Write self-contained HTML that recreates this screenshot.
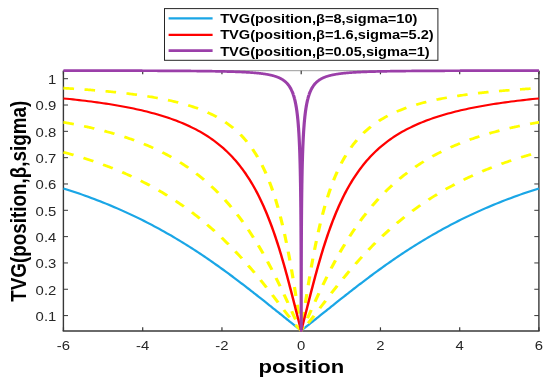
<!DOCTYPE html>
<html><head><meta charset="utf-8"><style>html,body{margin:0;padding:0;background:#fff;overflow:hidden}svg{display:block}</style></head><body>
<svg width="550" height="383" viewBox="0 0 550 383">
<rect width="550" height="383" fill="#fff"/>
<g stroke="#383838" fill="none">
<line x1="62.7" y1="330.9" x2="539.6" y2="330.9" stroke-width="1.5"/>
<line x1="63.4" y1="70.7" x2="538.9" y2="70.7" stroke-width="1" stroke="#9a9a9a"/>
<line x1="63.4" y1="70.7" x2="63.4" y2="330.9" stroke-width="1.4"/>
<line x1="538.9" y1="70.7" x2="538.9" y2="330.9" stroke-width="1.4"/>
<line x1="63.45" y1="330.9" x2="63.45" y2="327.3" stroke-width="1.2"/>
<line x1="63.45" y1="70.7" x2="63.45" y2="74.3" stroke-width="1.2"/>
<line x1="142.70" y1="330.9" x2="142.70" y2="327.3" stroke-width="1.2"/>
<line x1="142.70" y1="70.7" x2="142.70" y2="74.3" stroke-width="1.2"/>
<line x1="221.95" y1="330.9" x2="221.95" y2="327.3" stroke-width="1.2"/>
<line x1="221.95" y1="70.7" x2="221.95" y2="74.3" stroke-width="1.2"/>
<line x1="301.20" y1="330.9" x2="301.20" y2="327.3" stroke-width="1.2"/>
<line x1="301.20" y1="70.7" x2="301.20" y2="74.3" stroke-width="1.2"/>
<line x1="380.45" y1="330.9" x2="380.45" y2="327.3" stroke-width="1.2"/>
<line x1="380.45" y1="70.7" x2="380.45" y2="74.3" stroke-width="1.2"/>
<line x1="459.70" y1="330.9" x2="459.70" y2="327.3" stroke-width="1.2"/>
<line x1="459.70" y1="70.7" x2="459.70" y2="74.3" stroke-width="1.2"/>
<line x1="538.95" y1="330.9" x2="538.95" y2="327.3" stroke-width="1.2"/>
<line x1="538.95" y1="70.7" x2="538.95" y2="74.3" stroke-width="1.2"/>
<line x1="63.4" y1="315.58" x2="68.0" y2="315.58" stroke-width="1"/>
<line x1="538.9" y1="315.58" x2="534.3" y2="315.58" stroke-width="1"/>
<line x1="63.4" y1="289.26" x2="68.0" y2="289.26" stroke-width="1"/>
<line x1="538.9" y1="289.26" x2="534.3" y2="289.26" stroke-width="1"/>
<line x1="63.4" y1="262.94" x2="68.0" y2="262.94" stroke-width="1"/>
<line x1="538.9" y1="262.94" x2="534.3" y2="262.94" stroke-width="1"/>
<line x1="63.4" y1="236.62" x2="68.0" y2="236.62" stroke-width="1"/>
<line x1="538.9" y1="236.62" x2="534.3" y2="236.62" stroke-width="1"/>
<line x1="63.4" y1="210.30" x2="68.0" y2="210.30" stroke-width="1"/>
<line x1="538.9" y1="210.30" x2="534.3" y2="210.30" stroke-width="1"/>
<line x1="63.4" y1="183.98" x2="68.0" y2="183.98" stroke-width="1"/>
<line x1="538.9" y1="183.98" x2="534.3" y2="183.98" stroke-width="1"/>
<line x1="63.4" y1="157.66" x2="68.0" y2="157.66" stroke-width="1"/>
<line x1="538.9" y1="157.66" x2="534.3" y2="157.66" stroke-width="1"/>
<line x1="63.4" y1="131.34" x2="68.0" y2="131.34" stroke-width="1"/>
<line x1="538.9" y1="131.34" x2="534.3" y2="131.34" stroke-width="1"/>
<line x1="63.4" y1="105.02" x2="68.0" y2="105.02" stroke-width="1"/>
<line x1="538.9" y1="105.02" x2="534.3" y2="105.02" stroke-width="1"/>
<line x1="63.4" y1="78.70" x2="68.0" y2="78.70" stroke-width="1"/>
<line x1="538.9" y1="78.70" x2="534.3" y2="78.70" stroke-width="1"/>
</g>
<g transform="translate(301.2,0) scale(1.18,1)" fill="none" stroke-linejoin="round">
<polyline stroke="#1AA6E6" stroke-width="2.1" points="-201.48,188.42 -198.80,189.42 -196.13,190.44 -193.48,191.48 -190.85,192.52 -188.23,193.58 -185.64,194.65 -183.06,195.73 -180.50,196.82 -177.95,197.93 -175.43,199.05 -172.92,200.17 -170.44,201.32 -167.97,202.47 -165.51,203.63 -163.08,204.81 -160.66,205.99 -158.27,207.19 -155.89,208.40 -153.52,209.62 -151.18,210.85 -148.85,212.08 -146.55,213.33 -144.26,214.59 -141.99,215.86 -139.73,217.13 -137.50,218.42 -135.28,219.71 -133.08,221.01 -130.90,222.32 -128.73,223.63 -126.59,224.96 -124.46,226.28 -122.35,227.62 -120.26,228.96 -118.19,230.31 -116.13,231.66 -114.09,233.02 -112.07,234.38 -110.07,235.74 -108.09,237.11 -106.12,238.49 -104.18,239.86 -102.25,241.24 -100.34,242.62 -98.44,244.00 -96.57,245.38 -94.71,246.76 -92.87,248.14 -91.05,249.52 -89.25,250.91 -87.46,252.29 -85.70,253.66 -83.95,255.04 -82.22,256.41 -80.50,257.78 -78.81,259.15 -77.13,260.51 -75.47,261.87 -73.83,263.23 -72.21,264.57 -70.61,265.92 -69.02,267.25 -67.45,268.58 -65.90,269.91 -64.37,271.22 -62.85,272.53 -61.36,273.83 -59.88,275.12 -58.42,276.40 -56.98,277.67 -55.55,278.93 -54.15,280.19 -52.76,281.43 -51.39,282.66 -50.03,283.88 -48.70,285.08 -47.38,286.28 -46.09,287.46 -44.81,288.63 -43.54,289.79 -42.30,290.93 -41.07,292.07 -39.87,293.18 -38.68,294.29 -37.50,295.37 -36.35,296.45 -35.21,297.51 -34.10,298.55 -33.00,299.58 -31.91,300.60 -30.85,301.59 -29.81,302.58 -28.78,303.54 -27.77,304.50 -26.78,305.43 -25.80,306.35 -24.85,307.25 -23.91,308.14 -22.99,309.01 -22.09,309.86 -21.21,310.69 -20.34,311.51 -19.49,312.31 -18.66,313.10 -17.85,313.86 -17.06,314.61 -16.28,315.35 -15.53,316.06 -14.79,316.76 -14.07,317.44 -13.36,318.10 -12.68,318.75 -12.01,319.38 -11.36,319.99 -10.73,320.58 -10.12,321.16 -9.52,321.72 -8.94,322.26 -8.39,322.78 -7.85,323.29 -7.32,323.78 -6.82,324.25 -6.33,324.71 -5.86,325.14 -5.41,325.57 -4.98,325.97 -4.56,326.35 -4.17,326.72 -3.79,327.08 -3.43,327.41 -3.09,327.73 -2.76,328.03 -2.45,328.31 -2.17,328.58 -1.90,328.83 -1.64,329.07 -1.41,329.28 -1.19,329.48 -0.99,329.67 -0.81,329.83 -0.65,329.98 -0.51,330.12 -0.38,330.23 -0.27,330.33 -0.18,330.41 -0.11,330.48 -0.06,330.53 -0.02,330.56 -0.00,330.58 0.00,330.58 0.00,330.58 0.02,330.56 0.06,330.53 0.11,330.48 0.18,330.41 0.27,330.33 0.38,330.23 0.51,330.12 0.65,329.98 0.81,329.83 0.99,329.67 1.19,329.48 1.41,329.28 1.64,329.07 1.90,328.83 2.17,328.58 2.45,328.31 2.76,328.03 3.09,327.73 3.43,327.41 3.79,327.08 4.17,326.72 4.56,326.35 4.98,325.97 5.41,325.57 5.86,325.14 6.33,324.71 6.82,324.25 7.32,323.78 7.85,323.29 8.39,322.78 8.94,322.26 9.52,321.72 10.12,321.16 10.73,320.58 11.36,319.99 12.01,319.38 12.68,318.75 13.36,318.10 14.07,317.44 14.79,316.76 15.53,316.06 16.28,315.35 17.06,314.61 17.85,313.86 18.66,313.10 19.49,312.31 20.34,311.51 21.21,310.69 22.09,309.86 22.99,309.01 23.91,308.14 24.85,307.25 25.80,306.35 26.78,305.43 27.77,304.50 28.78,303.54 29.81,302.58 30.85,301.59 31.91,300.60 33.00,299.58 34.10,298.55 35.21,297.51 36.35,296.45 37.50,295.37 38.68,294.29 39.87,293.18 41.07,292.07 42.30,290.93 43.54,289.79 44.81,288.63 46.09,287.46 47.38,286.28 48.70,285.08 50.03,283.88 51.39,282.66 52.76,281.43 54.15,280.19 55.55,278.93 56.98,277.67 58.42,276.40 59.88,275.12 61.36,273.83 62.85,272.53 64.37,271.22 65.90,269.91 67.45,268.58 69.02,267.25 70.61,265.92 72.21,264.57 73.83,263.23 75.47,261.87 77.13,260.51 78.81,259.15 80.50,257.78 82.22,256.41 83.95,255.04 85.70,253.66 87.46,252.29 89.25,250.91 91.05,249.52 92.87,248.14 94.71,246.76 96.57,245.38 98.44,244.00 100.34,242.62 102.25,241.24 104.18,239.86 106.12,238.49 108.09,237.11 110.07,235.74 112.07,234.38 114.09,233.02 116.13,231.66 118.19,230.31 120.26,228.96 122.35,227.62 124.46,226.28 126.59,224.96 128.73,223.63 130.90,222.32 133.08,221.01 135.28,219.71 137.50,218.42 139.73,217.13 141.99,215.86 144.26,214.59 146.55,213.33 148.85,212.08 151.18,210.85 153.52,209.62 155.89,208.40 158.27,207.19 160.66,205.99 163.08,204.81 165.51,203.63 167.97,202.47 170.44,201.32 172.92,200.17 175.43,199.05 177.95,197.93 180.50,196.82 183.06,195.73 185.64,194.65 188.23,193.58 190.85,192.52 193.48,191.48 196.13,190.44 198.80,189.42 201.48,188.42"/>
<polyline stroke="#FFFF00" stroke-width="2.7" stroke-dasharray="9 8.9" points="-201.48,88.13 -201.48,88.13 -201.46,88.13 -201.44,88.14 -201.40,88.14 -201.36,88.14 -201.30,88.15 -201.23,88.15 -201.16,88.16 -201.07,88.16 -200.97,88.17 -200.87,88.18 -200.75,88.18 -200.62,88.19 -200.49,88.20 -200.34,88.21 -200.18,88.22 -200.01,88.24 -199.83,88.25 -199.65,88.26 -199.45,88.28 -199.24,88.29 -199.02,88.31 -198.79,88.32 -198.55,88.34 -198.30,88.36 -198.04,88.38 -197.77,88.40 -197.49,88.42 -197.20,88.44 -196.90,88.46 -196.59,88.48 -196.27,88.51 -195.94,88.53 -195.60,88.56 -195.25,88.58 -194.89,88.61 -194.52,88.64 -194.14,88.67 -193.74,88.70 -193.34,88.73 -192.93,88.76 -192.51,88.79 -192.08,88.83 -191.63,88.86 -191.18,88.90 -190.72,88.93 -190.24,88.97 -189.76,89.01 -189.27,89.05 -188.76,89.09 -188.25,89.13 -187.73,89.17 -187.19,89.22 -186.65,89.26 -186.09,89.31 -185.53,89.36 -184.95,89.41 -184.37,89.46 -183.77,89.51 -183.17,89.56 -182.55,89.61 -181.93,89.67 -181.29,89.72 -180.64,89.78 -179.99,89.84 -179.32,89.90 -178.64,89.96 -177.96,90.03 -177.26,90.09 -176.55,90.16 -175.84,90.23 -175.11,90.30 -174.37,90.37 -173.62,90.44 -172.86,90.51 -172.10,90.59 -171.32,90.67 -170.53,90.75 -169.73,90.83 -168.92,90.92 -168.10,91.00 -167.27,91.09 -166.43,91.18 -165.58,91.27 -164.72,91.37 -163.85,91.46 -162.97,91.56 -162.08,91.66 -161.18,91.77 -160.27,91.87 -159.35,91.98 -158.42,92.09 -157.48,92.21 -156.53,92.32 -155.57,92.44 -154.59,92.57 -153.61,92.69 -152.62,92.82 -151.62,92.95 -150.60,93.09 -149.58,93.23 -148.55,93.37 -147.51,93.52 -146.45,93.67 -145.39,93.82 -144.32,93.98 -143.23,94.14 -142.14,94.31 -141.03,94.48 -139.92,94.66 -138.80,94.84 -137.66,95.02 -136.52,95.21 -135.36,95.41 -134.20,95.61 -133.02,95.82 -131.84,96.03 -130.64,96.25 -129.43,96.48 -128.22,96.71 -126.99,96.95 -125.76,97.19 -124.51,97.45 -123.25,97.71 -121.99,97.98 -120.71,98.25 -119.42,98.54 -118.12,98.84 -116.82,99.14 -115.50,99.46 -114.17,99.78 -112.83,100.12 -111.48,100.46 -110.13,100.82 -108.76,101.19 -107.38,101.58 -105.99,101.98 -104.59,102.39 -103.18,102.82 -101.76,103.26 -100.33,103.72 -98.89,104.20 -97.44,104.69 -95.98,105.21 -94.51,105.74 -93.03,106.30 -91.54,106.88 -90.04,107.48 -88.53,108.11 -87.01,108.76 -85.48,109.44 -83.93,110.16 -82.38,110.90 -80.82,111.68 -79.25,112.50 -77.67,113.35 -76.07,114.24 -74.47,115.18 -72.86,116.17 -71.23,117.20 -69.60,118.29 -67.96,119.44 -66.30,120.64 -64.64,121.92 -62.97,123.26 -61.28,124.68 -59.59,126.19 -57.88,127.78 -56.17,129.47 -54.44,131.27 -52.71,133.18 -50.96,135.22 -49.21,137.39 -47.44,139.71 -45.67,142.19 -43.88,144.85 -42.09,147.71 -40.28,150.78 -38.46,154.09 -36.64,157.66 -34.80,161.52 -32.95,165.70 -31.10,170.23 -29.23,175.15 -27.35,180.51 -25.46,186.36 -23.57,192.75 -21.66,199.73 -19.74,207.37 -17.81,215.74 -15.87,224.91 -13.93,234.94 -11.97,245.90 -10.00,257.84 -8.02,270.77 -6.03,284.66 -4.03,299.41 -2.02,314.83 -0.00,330.58"/>
<polyline stroke="#FFFF00" stroke-width="2.7" stroke-dasharray="9 8.9" stroke-dashoffset="10.8" points="201.48,88.13 201.48,88.13 201.46,88.13 201.44,88.14 201.40,88.14 201.36,88.14 201.30,88.15 201.23,88.15 201.16,88.16 201.07,88.16 200.97,88.17 200.87,88.18 200.75,88.18 200.62,88.19 200.49,88.20 200.34,88.21 200.18,88.22 200.01,88.24 199.83,88.25 199.65,88.26 199.45,88.28 199.24,88.29 199.02,88.31 198.79,88.32 198.55,88.34 198.30,88.36 198.04,88.38 197.77,88.40 197.49,88.42 197.20,88.44 196.90,88.46 196.59,88.48 196.27,88.51 195.94,88.53 195.60,88.56 195.25,88.58 194.89,88.61 194.52,88.64 194.14,88.67 193.74,88.70 193.34,88.73 192.93,88.76 192.51,88.79 192.08,88.83 191.63,88.86 191.18,88.90 190.72,88.93 190.24,88.97 189.76,89.01 189.27,89.05 188.76,89.09 188.25,89.13 187.73,89.17 187.19,89.22 186.65,89.26 186.09,89.31 185.53,89.36 184.95,89.41 184.37,89.46 183.77,89.51 183.17,89.56 182.55,89.61 181.93,89.67 181.29,89.72 180.64,89.78 179.99,89.84 179.32,89.90 178.64,89.96 177.96,90.03 177.26,90.09 176.55,90.16 175.84,90.23 175.11,90.30 174.37,90.37 173.62,90.44 172.86,90.51 172.10,90.59 171.32,90.67 170.53,90.75 169.73,90.83 168.92,90.92 168.10,91.00 167.27,91.09 166.43,91.18 165.58,91.27 164.72,91.37 163.85,91.46 162.97,91.56 162.08,91.66 161.18,91.77 160.27,91.87 159.35,91.98 158.42,92.09 157.48,92.21 156.53,92.32 155.57,92.44 154.59,92.57 153.61,92.69 152.62,92.82 151.62,92.95 150.60,93.09 149.58,93.23 148.55,93.37 147.51,93.52 146.45,93.67 145.39,93.82 144.32,93.98 143.23,94.14 142.14,94.31 141.03,94.48 139.92,94.66 138.80,94.84 137.66,95.02 136.52,95.21 135.36,95.41 134.20,95.61 133.02,95.82 131.84,96.03 130.64,96.25 129.43,96.48 128.22,96.71 126.99,96.95 125.76,97.19 124.51,97.45 123.25,97.71 121.99,97.98 120.71,98.25 119.42,98.54 118.12,98.84 116.82,99.14 115.50,99.46 114.17,99.78 112.83,100.12 111.48,100.46 110.13,100.82 108.76,101.19 107.38,101.58 105.99,101.98 104.59,102.39 103.18,102.82 101.76,103.26 100.33,103.72 98.89,104.20 97.44,104.69 95.98,105.21 94.51,105.74 93.03,106.30 91.54,106.88 90.04,107.48 88.53,108.11 87.01,108.76 85.48,109.44 83.93,110.16 82.38,110.90 80.82,111.68 79.25,112.50 77.67,113.35 76.07,114.24 74.47,115.18 72.86,116.17 71.23,117.20 69.60,118.29 67.96,119.44 66.30,120.64 64.64,121.92 62.97,123.26 61.28,124.68 59.59,126.19 57.88,127.78 56.17,129.47 54.44,131.27 52.71,133.18 50.96,135.22 49.21,137.39 47.44,139.71 45.67,142.19 43.88,144.85 42.09,147.71 40.28,150.78 38.46,154.09 36.64,157.66 34.80,161.52 32.95,165.70 31.10,170.23 29.23,175.15 27.35,180.51 25.46,186.36 23.57,192.75 21.66,199.73 19.74,207.37 17.81,215.74 15.87,224.91 13.93,234.94 11.97,245.90 10.00,257.84 8.02,270.77 6.03,284.66 4.03,299.41 2.02,314.83 0.00,330.58"/>
<polyline stroke="#FFFF00" stroke-width="2.7" stroke-dasharray="9 8.9" points="-201.48,122.30 -201.48,122.30 -201.46,122.30 -201.44,122.30 -201.40,122.31 -201.36,122.32 -201.30,122.33 -201.23,122.35 -201.16,122.36 -201.07,122.38 -200.97,122.40 -200.87,122.42 -200.75,122.44 -200.62,122.47 -200.49,122.50 -200.34,122.53 -200.18,122.56 -200.01,122.60 -199.83,122.63 -199.65,122.67 -199.45,122.71 -199.24,122.76 -199.02,122.80 -198.79,122.85 -198.55,122.90 -198.30,122.95 -198.04,123.01 -197.77,123.06 -197.49,123.12 -197.20,123.18 -196.90,123.25 -196.59,123.31 -196.27,123.38 -195.94,123.45 -195.60,123.53 -195.25,123.60 -194.89,123.68 -194.52,123.76 -194.14,123.85 -193.74,123.94 -193.34,124.02 -192.93,124.12 -192.51,124.21 -192.08,124.31 -191.63,124.41 -191.18,124.51 -190.72,124.62 -190.24,124.73 -189.76,124.84 -189.27,124.96 -188.76,125.07 -188.25,125.20 -187.73,125.32 -187.19,125.45 -186.65,125.58 -186.09,125.71 -185.53,125.85 -184.95,125.99 -184.37,126.14 -183.77,126.29 -183.17,126.44 -182.55,126.59 -181.93,126.75 -181.29,126.92 -180.64,127.08 -179.99,127.26 -179.32,127.43 -178.64,127.61 -177.96,127.80 -177.26,127.98 -176.55,128.18 -175.84,128.37 -175.11,128.58 -174.37,128.78 -173.62,128.99 -172.86,129.21 -172.10,129.43 -171.32,129.66 -170.53,129.89 -169.73,130.13 -168.92,130.37 -168.10,130.62 -167.27,130.87 -166.43,131.13 -165.58,131.39 -164.72,131.67 -163.85,131.94 -162.97,132.23 -162.08,132.52 -161.18,132.82 -160.27,133.12 -159.35,133.43 -158.42,133.75 -157.48,134.08 -156.53,134.41 -155.57,134.75 -154.59,135.10 -153.61,135.46 -152.62,135.83 -151.62,136.20 -150.60,136.58 -149.58,136.98 -148.55,137.38 -147.51,137.79 -146.45,138.21 -145.39,138.64 -144.32,139.08 -143.23,139.54 -142.14,140.00 -141.03,140.47 -139.92,140.96 -138.80,141.46 -137.66,141.97 -136.52,142.49 -135.36,143.02 -134.20,143.57 -133.02,144.14 -131.84,144.71 -130.64,145.30 -129.43,145.91 -128.22,146.53 -126.99,147.17 -125.76,147.82 -124.51,148.49 -123.25,149.18 -121.99,149.88 -120.71,150.60 -119.42,151.35 -118.12,152.11 -116.82,152.89 -115.50,153.69 -114.17,154.52 -112.83,155.36 -111.48,156.23 -110.13,157.12 -108.76,158.04 -107.38,158.98 -105.99,159.95 -104.59,160.94 -103.18,161.97 -101.76,163.02 -100.33,164.10 -98.89,165.21 -97.44,166.35 -95.98,167.52 -94.51,168.73 -93.03,169.97 -91.54,171.25 -90.04,172.57 -88.53,173.93 -87.01,175.32 -85.48,176.76 -83.93,178.23 -82.38,179.76 -80.82,181.33 -79.25,182.94 -77.67,184.61 -76.07,186.32 -74.47,188.09 -72.86,189.91 -71.23,191.79 -69.60,193.73 -67.96,195.73 -66.30,197.79 -64.64,199.91 -62.97,202.11 -61.28,204.37 -59.59,206.70 -57.88,209.11 -56.17,211.59 -54.44,214.16 -52.71,216.80 -50.96,219.54 -49.21,222.35 -47.44,225.26 -45.67,228.27 -43.88,231.37 -42.09,234.57 -40.28,237.87 -38.46,241.28 -36.64,244.79 -34.80,248.42 -32.95,252.16 -31.10,256.01 -29.23,259.99 -27.35,264.08 -25.46,268.30 -23.57,272.63 -21.66,277.09 -19.74,281.66 -17.81,286.36 -15.87,291.16 -13.93,296.07 -11.97,301.07 -10.00,306.15 -8.02,311.28 -6.03,316.42 -4.03,321.50 -2.02,326.39 -0.00,330.58"/>
<polyline stroke="#FFFF00" stroke-width="2.7" stroke-dasharray="9 8.9" stroke-dashoffset="1.3" points="201.48,122.30 201.48,122.30 201.46,122.30 201.44,122.30 201.40,122.31 201.36,122.32 201.30,122.33 201.23,122.35 201.16,122.36 201.07,122.38 200.97,122.40 200.87,122.42 200.75,122.44 200.62,122.47 200.49,122.50 200.34,122.53 200.18,122.56 200.01,122.60 199.83,122.63 199.65,122.67 199.45,122.71 199.24,122.76 199.02,122.80 198.79,122.85 198.55,122.90 198.30,122.95 198.04,123.01 197.77,123.06 197.49,123.12 197.20,123.18 196.90,123.25 196.59,123.31 196.27,123.38 195.94,123.45 195.60,123.53 195.25,123.60 194.89,123.68 194.52,123.76 194.14,123.85 193.74,123.94 193.34,124.02 192.93,124.12 192.51,124.21 192.08,124.31 191.63,124.41 191.18,124.51 190.72,124.62 190.24,124.73 189.76,124.84 189.27,124.96 188.76,125.07 188.25,125.20 187.73,125.32 187.19,125.45 186.65,125.58 186.09,125.71 185.53,125.85 184.95,125.99 184.37,126.14 183.77,126.29 183.17,126.44 182.55,126.59 181.93,126.75 181.29,126.92 180.64,127.08 179.99,127.26 179.32,127.43 178.64,127.61 177.96,127.80 177.26,127.98 176.55,128.18 175.84,128.37 175.11,128.58 174.37,128.78 173.62,128.99 172.86,129.21 172.10,129.43 171.32,129.66 170.53,129.89 169.73,130.13 168.92,130.37 168.10,130.62 167.27,130.87 166.43,131.13 165.58,131.39 164.72,131.67 163.85,131.94 162.97,132.23 162.08,132.52 161.18,132.82 160.27,133.12 159.35,133.43 158.42,133.75 157.48,134.08 156.53,134.41 155.57,134.75 154.59,135.10 153.61,135.46 152.62,135.83 151.62,136.20 150.60,136.58 149.58,136.98 148.55,137.38 147.51,137.79 146.45,138.21 145.39,138.64 144.32,139.08 143.23,139.54 142.14,140.00 141.03,140.47 139.92,140.96 138.80,141.46 137.66,141.97 136.52,142.49 135.36,143.02 134.20,143.57 133.02,144.14 131.84,144.71 130.64,145.30 129.43,145.91 128.22,146.53 126.99,147.17 125.76,147.82 124.51,148.49 123.25,149.18 121.99,149.88 120.71,150.60 119.42,151.35 118.12,152.11 116.82,152.89 115.50,153.69 114.17,154.52 112.83,155.36 111.48,156.23 110.13,157.12 108.76,158.04 107.38,158.98 105.99,159.95 104.59,160.94 103.18,161.97 101.76,163.02 100.33,164.10 98.89,165.21 97.44,166.35 95.98,167.52 94.51,168.73 93.03,169.97 91.54,171.25 90.04,172.57 88.53,173.93 87.01,175.32 85.48,176.76 83.93,178.23 82.38,179.76 80.82,181.33 79.25,182.94 77.67,184.61 76.07,186.32 74.47,188.09 72.86,189.91 71.23,191.79 69.60,193.73 67.96,195.73 66.30,197.79 64.64,199.91 62.97,202.11 61.28,204.37 59.59,206.70 57.88,209.11 56.17,211.59 54.44,214.16 52.71,216.80 50.96,219.54 49.21,222.35 47.44,225.26 45.67,228.27 43.88,231.37 42.09,234.57 40.28,237.87 38.46,241.28 36.64,244.79 34.80,248.42 32.95,252.16 31.10,256.01 29.23,259.99 27.35,264.08 25.46,268.30 23.57,272.63 21.66,277.09 19.74,281.66 17.81,286.36 15.87,291.16 13.93,296.07 11.97,301.07 10.00,306.15 8.02,311.28 6.03,316.42 4.03,321.50 2.02,326.39 0.00,330.58"/>
<polyline stroke="#FFFF00" stroke-width="2.7" stroke-dasharray="9 8.9" points="-201.48,152.21 -201.48,152.21 -201.46,152.22 -201.44,152.23 -201.40,152.24 -201.36,152.25 -201.30,152.27 -201.23,152.29 -201.16,152.32 -201.07,152.34 -200.97,152.37 -200.87,152.41 -200.75,152.44 -200.62,152.48 -200.49,152.53 -200.34,152.58 -200.18,152.63 -200.01,152.68 -199.83,152.74 -199.65,152.80 -199.45,152.86 -199.24,152.93 -199.02,153.00 -198.79,153.07 -198.55,153.15 -198.30,153.23 -198.04,153.31 -197.77,153.40 -197.49,153.49 -197.20,153.59 -196.90,153.69 -196.59,153.79 -196.27,153.89 -195.94,154.00 -195.60,154.12 -195.25,154.23 -194.89,154.35 -194.52,154.48 -194.14,154.61 -193.74,154.74 -193.34,154.88 -192.93,155.02 -192.51,155.16 -192.08,155.31 -191.63,155.46 -191.18,155.62 -190.72,155.78 -190.24,155.95 -189.76,156.11 -189.27,156.29 -188.76,156.47 -188.25,156.65 -187.73,156.84 -187.19,157.03 -186.65,157.23 -186.09,157.43 -185.53,157.63 -184.95,157.84 -184.37,158.06 -183.77,158.28 -183.17,158.51 -182.55,158.74 -181.93,158.97 -181.29,159.21 -180.64,159.46 -179.99,159.71 -179.32,159.97 -178.64,160.23 -177.96,160.50 -177.26,160.78 -176.55,161.06 -175.84,161.34 -175.11,161.64 -174.37,161.94 -173.62,162.24 -172.86,162.55 -172.10,162.87 -171.32,163.19 -170.53,163.53 -169.73,163.86 -168.92,164.21 -168.10,164.56 -167.27,164.92 -166.43,165.29 -165.58,165.66 -164.72,166.04 -163.85,166.43 -162.97,166.83 -162.08,167.23 -161.18,167.65 -160.27,168.07 -159.35,168.50 -158.42,168.94 -157.48,169.38 -156.53,169.84 -155.57,170.31 -154.59,170.78 -153.61,171.27 -152.62,171.76 -151.62,172.26 -150.60,172.78 -149.58,173.30 -148.55,173.84 -147.51,174.38 -146.45,174.94 -145.39,175.51 -144.32,176.08 -143.23,176.67 -142.14,177.28 -141.03,177.89 -139.92,178.52 -138.80,179.16 -137.66,179.81 -136.52,180.47 -135.36,181.15 -134.20,181.85 -133.02,182.55 -131.84,183.27 -130.64,184.01 -129.43,184.76 -128.22,185.52 -126.99,186.30 -125.76,187.10 -124.51,187.91 -123.25,188.74 -121.99,189.59 -120.71,190.45 -119.42,191.33 -118.12,192.23 -116.82,193.15 -115.50,194.09 -114.17,195.05 -112.83,196.02 -111.48,197.02 -110.13,198.04 -108.76,199.07 -107.38,200.13 -105.99,201.22 -104.59,202.32 -103.18,203.45 -101.76,204.60 -100.33,205.77 -98.89,206.97 -97.44,208.20 -95.98,209.45 -94.51,210.73 -93.03,212.03 -91.54,213.36 -90.04,214.72 -88.53,216.11 -87.01,217.53 -85.48,218.97 -83.93,220.45 -82.38,221.96 -80.82,223.50 -79.25,225.08 -77.67,226.68 -76.07,228.33 -74.47,230.00 -72.86,231.71 -71.23,233.46 -69.60,235.24 -67.96,237.06 -66.30,238.92 -64.64,240.82 -62.97,242.76 -61.28,244.74 -59.59,246.75 -57.88,248.81 -56.17,250.92 -54.44,253.06 -52.71,255.25 -50.96,257.48 -49.21,259.75 -47.44,262.07 -45.67,264.44 -43.88,266.85 -42.09,269.30 -40.28,271.80 -38.46,274.35 -36.64,276.94 -34.80,279.58 -32.95,282.26 -31.10,284.98 -29.23,287.75 -27.35,290.55 -25.46,293.40 -23.57,296.28 -21.66,299.20 -19.74,302.15 -17.81,305.12 -15.87,308.11 -13.93,311.11 -11.97,314.12 -10.00,317.11 -8.02,320.08 -6.03,322.98 -4.03,325.80 -2.02,328.43 -0.00,330.58"/>
<polyline stroke="#FFFF00" stroke-width="2.7" stroke-dasharray="9 8.9" stroke-dashoffset="10.9" points="201.48,152.21 201.48,152.21 201.46,152.22 201.44,152.23 201.40,152.24 201.36,152.25 201.30,152.27 201.23,152.29 201.16,152.32 201.07,152.34 200.97,152.37 200.87,152.41 200.75,152.44 200.62,152.48 200.49,152.53 200.34,152.58 200.18,152.63 200.01,152.68 199.83,152.74 199.65,152.80 199.45,152.86 199.24,152.93 199.02,153.00 198.79,153.07 198.55,153.15 198.30,153.23 198.04,153.31 197.77,153.40 197.49,153.49 197.20,153.59 196.90,153.69 196.59,153.79 196.27,153.89 195.94,154.00 195.60,154.12 195.25,154.23 194.89,154.35 194.52,154.48 194.14,154.61 193.74,154.74 193.34,154.88 192.93,155.02 192.51,155.16 192.08,155.31 191.63,155.46 191.18,155.62 190.72,155.78 190.24,155.95 189.76,156.11 189.27,156.29 188.76,156.47 188.25,156.65 187.73,156.84 187.19,157.03 186.65,157.23 186.09,157.43 185.53,157.63 184.95,157.84 184.37,158.06 183.77,158.28 183.17,158.51 182.55,158.74 181.93,158.97 181.29,159.21 180.64,159.46 179.99,159.71 179.32,159.97 178.64,160.23 177.96,160.50 177.26,160.78 176.55,161.06 175.84,161.34 175.11,161.64 174.37,161.94 173.62,162.24 172.86,162.55 172.10,162.87 171.32,163.19 170.53,163.53 169.73,163.86 168.92,164.21 168.10,164.56 167.27,164.92 166.43,165.29 165.58,165.66 164.72,166.04 163.85,166.43 162.97,166.83 162.08,167.23 161.18,167.65 160.27,168.07 159.35,168.50 158.42,168.94 157.48,169.38 156.53,169.84 155.57,170.31 154.59,170.78 153.61,171.27 152.62,171.76 151.62,172.26 150.60,172.78 149.58,173.30 148.55,173.84 147.51,174.38 146.45,174.94 145.39,175.51 144.32,176.08 143.23,176.67 142.14,177.28 141.03,177.89 139.92,178.52 138.80,179.16 137.66,179.81 136.52,180.47 135.36,181.15 134.20,181.85 133.02,182.55 131.84,183.27 130.64,184.01 129.43,184.76 128.22,185.52 126.99,186.30 125.76,187.10 124.51,187.91 123.25,188.74 121.99,189.59 120.71,190.45 119.42,191.33 118.12,192.23 116.82,193.15 115.50,194.09 114.17,195.05 112.83,196.02 111.48,197.02 110.13,198.04 108.76,199.07 107.38,200.13 105.99,201.22 104.59,202.32 103.18,203.45 101.76,204.60 100.33,205.77 98.89,206.97 97.44,208.20 95.98,209.45 94.51,210.73 93.03,212.03 91.54,213.36 90.04,214.72 88.53,216.11 87.01,217.53 85.48,218.97 83.93,220.45 82.38,221.96 80.82,223.50 79.25,225.08 77.67,226.68 76.07,228.33 74.47,230.00 72.86,231.71 71.23,233.46 69.60,235.24 67.96,237.06 66.30,238.92 64.64,240.82 62.97,242.76 61.28,244.74 59.59,246.75 57.88,248.81 56.17,250.92 54.44,253.06 52.71,255.25 50.96,257.48 49.21,259.75 47.44,262.07 45.67,264.44 43.88,266.85 42.09,269.30 40.28,271.80 38.46,274.35 36.64,276.94 34.80,279.58 32.95,282.26 31.10,284.98 29.23,287.75 27.35,290.55 25.46,293.40 23.57,296.28 21.66,299.20 19.74,302.15 17.81,305.12 15.87,308.11 13.93,311.11 11.97,314.12 10.00,317.11 8.02,320.08 6.03,322.98 4.03,325.80 2.02,328.43 0.00,330.58"/>
<polyline stroke="#FF0000" stroke-width="2.1" points="-201.48,98.43 -198.80,98.75 -196.13,99.07 -193.48,99.41 -190.85,99.75 -188.23,100.10 -185.64,100.45 -183.06,100.82 -180.50,101.19 -177.95,101.58 -175.43,101.97 -172.92,102.37 -170.44,102.78 -167.97,103.20 -165.51,103.64 -163.08,104.08 -160.66,104.53 -158.27,105.00 -155.89,105.47 -153.52,105.96 -151.18,106.46 -148.85,106.98 -146.55,107.50 -144.26,108.04 -141.99,108.60 -139.73,109.16 -137.50,109.75 -135.28,110.34 -133.08,110.96 -130.90,111.59 -128.73,112.23 -126.59,112.89 -124.46,113.57 -122.35,114.27 -120.26,114.99 -118.19,115.72 -116.13,116.48 -114.09,117.25 -112.07,118.05 -110.07,118.86 -108.09,119.70 -106.12,120.56 -104.18,121.45 -102.25,122.36 -100.34,123.29 -98.44,124.25 -96.57,125.24 -94.71,126.25 -92.87,127.29 -91.05,128.35 -89.25,129.45 -87.46,130.58 -85.70,131.73 -83.95,132.92 -82.22,134.15 -80.50,135.40 -78.81,136.69 -77.13,138.01 -75.47,139.37 -73.83,140.77 -72.21,142.20 -70.61,143.68 -69.02,145.19 -67.45,146.74 -65.90,148.34 -64.37,149.97 -62.85,151.65 -61.36,153.37 -59.88,155.14 -58.42,156.95 -56.98,158.81 -55.55,160.72 -54.15,162.67 -52.76,164.67 -51.39,166.72 -50.03,168.81 -48.70,170.96 -47.38,173.16 -46.09,175.40 -44.81,177.70 -43.54,180.05 -42.30,182.44 -41.07,184.89 -39.87,187.38 -38.68,189.93 -37.50,192.52 -36.35,195.16 -35.21,197.84 -34.10,200.57 -33.00,203.34 -31.91,206.16 -30.85,209.02 -29.81,211.91 -28.78,214.84 -27.77,217.80 -26.78,220.80 -25.80,223.82 -24.85,226.87 -23.91,229.94 -22.99,233.02 -22.09,236.12 -21.21,239.24 -20.34,242.36 -19.49,245.48 -18.66,248.60 -17.85,251.71 -17.06,254.81 -16.28,257.90 -15.53,260.97 -14.79,264.01 -14.07,267.02 -13.36,270.00 -12.68,272.94 -12.01,275.84 -11.36,278.69 -10.73,281.48 -10.12,284.23 -9.52,286.91 -8.94,289.53 -8.39,292.08 -7.85,294.56 -7.32,296.97 -6.82,299.31 -6.33,301.56 -5.86,303.74 -5.41,305.84 -4.98,307.85 -4.56,309.78 -4.17,311.62 -3.79,313.38 -3.43,315.04 -3.09,316.63 -2.76,318.12 -2.45,319.53 -2.17,320.85 -1.90,322.08 -1.64,323.23 -1.41,324.29 -1.19,325.27 -0.99,326.16 -0.81,326.97 -0.65,327.70 -0.51,328.34 -0.38,328.90 -0.27,329.38 -0.18,329.78 -0.11,330.10 -0.06,330.33 -0.02,330.49 -0.00,330.57 0.00,330.58 0.00,330.57 0.02,330.49 0.06,330.33 0.11,330.10 0.18,329.78 0.27,329.38 0.38,328.90 0.51,328.34 0.65,327.70 0.81,326.97 0.99,326.16 1.19,325.27 1.41,324.29 1.64,323.23 1.90,322.08 2.17,320.85 2.45,319.53 2.76,318.12 3.09,316.63 3.43,315.04 3.79,313.38 4.17,311.62 4.56,309.78 4.98,307.85 5.41,305.84 5.86,303.74 6.33,301.56 6.82,299.31 7.32,296.97 7.85,294.56 8.39,292.08 8.94,289.53 9.52,286.91 10.12,284.23 10.73,281.48 11.36,278.69 12.01,275.84 12.68,272.94 13.36,270.00 14.07,267.02 14.79,264.01 15.53,260.97 16.28,257.90 17.06,254.81 17.85,251.71 18.66,248.60 19.49,245.48 20.34,242.36 21.21,239.24 22.09,236.12 22.99,233.02 23.91,229.94 24.85,226.87 25.80,223.82 26.78,220.80 27.77,217.80 28.78,214.84 29.81,211.91 30.85,209.02 31.91,206.16 33.00,203.34 34.10,200.57 35.21,197.84 36.35,195.16 37.50,192.52 38.68,189.93 39.87,187.38 41.07,184.89 42.30,182.44 43.54,180.05 44.81,177.70 46.09,175.40 47.38,173.16 48.70,170.96 50.03,168.81 51.39,166.72 52.76,164.67 54.15,162.67 55.55,160.72 56.98,158.81 58.42,156.95 59.88,155.14 61.36,153.37 62.85,151.65 64.37,149.97 65.90,148.34 67.45,146.74 69.02,145.19 70.61,143.68 72.21,142.20 73.83,140.77 75.47,139.37 77.13,138.01 78.81,136.69 80.50,135.40 82.22,134.15 83.95,132.92 85.70,131.73 87.46,130.58 89.25,129.45 91.05,128.35 92.87,127.29 94.71,126.25 96.57,125.24 98.44,124.25 100.34,123.29 102.25,122.36 104.18,121.45 106.12,120.56 108.09,119.70 110.07,118.86 112.07,118.05 114.09,117.25 116.13,116.48 118.19,115.72 120.26,114.99 122.35,114.27 124.46,113.57 126.59,112.89 128.73,112.23 130.90,111.59 133.08,110.96 135.28,110.34 137.50,109.75 139.73,109.16 141.99,108.60 144.26,108.04 146.55,107.50 148.85,106.98 151.18,106.46 153.52,105.96 155.89,105.47 158.27,105.00 160.66,104.53 163.08,104.08 165.51,103.64 167.97,103.20 170.44,102.78 172.92,102.37 175.43,101.97 177.95,101.58 180.50,101.19 183.06,100.82 185.64,100.45 188.23,100.10 190.85,99.75 193.48,99.41 196.13,99.07 198.80,98.75 201.48,98.43"/>
<polyline stroke="#9B3FA9" stroke-width="2.7" points="-201.48,70.60 -200.48,70.60 -199.47,70.60 -198.47,70.60 -197.48,70.60 -196.48,70.60 -195.49,70.61 -194.51,70.61 -193.52,70.61 -192.54,70.61 -191.57,70.61 -190.59,70.61 -189.62,70.61 -188.66,70.61 -187.69,70.61 -186.73,70.62 -185.78,70.62 -184.82,70.62 -183.87,70.62 -182.93,70.62 -181.98,70.62 -181.04,70.62 -180.11,70.62 -179.17,70.63 -178.24,70.63 -177.31,70.63 -176.39,70.63 -175.47,70.63 -174.55,70.63 -173.64,70.63 -172.72,70.63 -171.82,70.64 -170.91,70.64 -170.01,70.64 -169.11,70.64 -168.21,70.64 -167.32,70.64 -166.43,70.65 -165.55,70.65 -164.66,70.65 -163.78,70.65 -162.91,70.65 -162.03,70.65 -161.16,70.66 -160.30,70.66 -159.43,70.66 -158.57,70.66 -157.71,70.66 -156.86,70.66 -156.01,70.67 -155.16,70.67 -154.31,70.67 -153.47,70.67 -152.63,70.67 -151.79,70.68 -150.96,70.68 -150.13,70.68 -149.30,70.68 -148.48,70.68 -147.66,70.69 -146.84,70.69 -146.03,70.69 -145.21,70.69 -144.40,70.69 -143.60,70.70 -142.80,70.70 -142.00,70.70 -141.20,70.70 -140.40,70.71 -139.61,70.71 -138.83,70.71 -138.04,70.71 -137.26,70.72 -136.48,70.72 -135.70,70.72 -134.93,70.72 -134.16,70.73 -133.39,70.73 -132.63,70.73 -131.87,70.73 -131.11,70.74 -130.35,70.74 -129.60,70.74 -128.85,70.75 -128.10,70.75 -127.36,70.75 -126.62,70.76 -125.88,70.76 -125.14,70.76 -124.41,70.76 -123.68,70.77 -122.95,70.77 -122.23,70.77 -121.51,70.78 -120.79,70.78 -120.08,70.78 -119.36,70.79 -118.65,70.79 -117.95,70.80 -117.24,70.80 -116.54,70.80 -115.84,70.81 -115.15,70.81 -114.45,70.81 -113.76,70.82 -113.08,70.82 -112.39,70.83 -111.71,70.83 -111.03,70.83 -110.35,70.84 -109.68,70.84 -109.01,70.85 -108.34,70.85 -107.68,70.86 -107.01,70.86 -106.35,70.87 -105.70,70.87 -105.04,70.87 -104.39,70.88 -103.74,70.88 -103.09,70.89 -102.45,70.89 -101.81,70.90 -101.17,70.90 -100.54,70.91 -99.90,70.91 -99.27,70.92 -98.65,70.93 -98.02,70.93 -97.40,70.94 -96.78,70.94 -96.16,70.95 -95.55,70.95 -94.93,70.96 -94.33,70.97 -93.72,70.97 -93.12,70.98 -92.51,70.98 -91.91,70.99 -91.32,71.00 -90.73,71.00 -90.13,71.01 -89.55,71.02 -88.96,71.02 -88.38,71.03 -87.80,71.04 -87.22,71.04 -86.64,71.05 -86.07,71.06 -85.50,71.07 -84.93,71.07 -84.36,71.08 -83.80,71.09 -83.24,71.10 -82.68,71.11 -82.13,71.11 -81.57,71.12 -81.02,71.13 -80.48,71.14 -79.93,71.15 -79.39,71.16 -78.85,71.16 -78.31,71.17 -77.77,71.18 -77.24,71.19 -76.71,71.20 -76.18,71.21 -75.65,71.22 -75.13,71.23 -74.61,71.24 -74.09,71.25 -73.57,71.26 -73.06,71.27 -72.55,71.28 -72.04,71.29 -71.53,71.30 -71.03,71.31 -70.53,71.33 -70.03,71.34 -69.53,71.35 -69.03,71.36 -68.54,71.37 -68.05,71.38 -67.56,71.40 -67.08,71.41 -66.60,71.42 -66.11,71.43 -65.64,71.45 -65.16,71.46 -64.69,71.47 -64.21,71.49 -63.75,71.50 -63.28,71.51 -62.81,71.53 -62.35,71.54 -61.89,71.56 -61.43,71.57 -60.98,71.59 -60.52,71.60 -60.07,71.62 -59.62,71.63 -59.18,71.65 -58.73,71.66 -58.29,71.68 -57.85,71.70 -57.41,71.71 -56.98,71.73 -56.54,71.75 -56.11,71.77 -55.68,71.78 -55.26,71.80 -54.83,71.82 -54.41,71.84 -53.99,71.86 -53.57,71.88 -53.16,71.90 -52.74,71.92 -52.33,71.94 -51.92,71.96 -51.52,71.98 -51.11,72.00 -50.71,72.02 -50.31,72.04 -49.91,72.06 -49.51,72.09 -49.12,72.11 -48.72,72.13 -48.33,72.16 -47.95,72.18 -47.56,72.20 -47.18,72.23 -46.79,72.25 -46.41,72.28 -46.04,72.30 -45.66,72.33 -45.29,72.36 -44.91,72.38 -44.54,72.41 -44.18,72.44 -43.81,72.47 -43.45,72.49 -43.09,72.52 -42.73,72.55 -42.37,72.58 -42.01,72.61 -41.66,72.64 -41.31,72.67 -40.96,72.71 -40.61,72.74 -40.27,72.77 -39.92,72.80 -39.58,72.84 -39.24,72.87 -38.90,72.91 -38.57,72.94 -38.23,72.98 -37.90,73.01 -37.57,73.05 -37.24,73.09 -36.92,73.12 -36.59,73.16 -36.27,73.20 -35.95,73.24 -35.63,73.28 -35.31,73.32 -35.00,73.36 -34.69,73.41 -34.38,73.45 -34.07,73.49 -33.76,73.54 -33.45,73.58 -33.15,73.63 -32.85,73.67 -32.55,73.72 -32.25,73.77 -31.95,73.82 -31.66,73.87 -31.37,73.92 -31.08,73.97 -30.79,74.02 -30.50,74.07 -30.21,74.12 -29.93,74.18 -29.65,74.23 -29.37,74.29 -29.09,74.34 -28.81,74.40 -28.54,74.46 -28.26,74.52 -27.99,74.58 -27.72,74.64 -27.46,74.70 -27.19,74.76 -26.93,74.83 -26.66,74.89 -26.40,74.96 -26.14,75.02 -25.88,75.09 -25.63,75.16 -25.37,75.23 -25.12,75.30 -24.87,75.37 -24.62,75.45 -24.38,75.52 -24.13,75.60 -23.89,75.67 -23.64,75.75 -23.40,75.83 -23.16,75.91 -22.93,75.99 -22.69,76.07 -22.45,76.16 -22.22,76.24 -21.99,76.33 -21.76,76.42 -21.53,76.51 -21.31,76.60 -21.08,76.69 -20.86,76.78 -20.64,76.88 -20.42,76.98 -20.20,77.07 -19.98,77.17 -19.77,77.27 -19.55,77.38 -19.34,77.48 -19.13,77.59 -18.92,77.69 -18.71,77.80 -18.51,77.91 -18.30,78.03 -18.10,78.14 -17.90,78.26 -17.70,78.38 -17.50,78.50 -17.30,78.62 -17.11,78.74 -16.91,78.87 -16.72,78.99 -16.53,79.12 -16.34,79.25 -16.15,79.39 -15.97,79.52 -15.78,79.66 -15.60,79.80 -15.41,79.94 -15.23,80.08 -15.05,80.23 -14.88,80.38 -14.70,80.53 -14.52,80.68 -14.35,80.84 -14.18,81.00 -14.01,81.16 -13.84,81.32 -13.67,81.48 -13.50,81.65 -13.34,81.82 -13.17,82.00 -13.01,82.17 -12.85,82.35 -12.69,82.53 -12.53,82.72 -12.37,82.90 -12.21,83.09 -12.06,83.28 -11.91,83.48 -11.75,83.68 -11.60,83.88 -11.45,84.08 -11.30,84.29 -11.16,84.50 -11.01,84.72 -10.87,84.93 -10.72,85.16 -10.58,85.38 -10.44,85.61 -10.30,85.84 -10.16,86.07 -10.03,86.31 -9.89,86.55 -9.75,86.80 -9.62,87.05 -9.49,87.30 -9.36,87.56 -9.23,87.82 -9.10,88.08 -8.97,88.35 -8.85,88.63 -8.72,88.90 -8.60,89.18 -8.48,89.47 -8.35,89.76 -8.23,90.05 -8.12,90.35 -8.00,90.66 -7.88,90.96 -7.77,91.28 -7.65,91.59 -7.54,91.92 -7.43,92.24 -7.31,92.57 -7.20,92.91 -7.10,93.25 -6.99,93.60 -6.88,93.95 -6.78,94.31 -6.67,94.67 -6.57,95.04 -6.46,95.41 -6.36,95.79 -6.26,96.18 -6.16,96.57 -6.07,96.96 -5.97,97.37 -5.87,97.77 -5.78,98.19 -5.68,98.61 -5.59,99.03 -5.50,99.47 -5.41,99.91 -5.32,100.35 -5.23,100.80 -5.14,101.26 -5.05,101.73 -4.97,102.20 -4.88,102.68 -4.80,103.16 -4.72,103.66 -4.63,104.16 -4.55,104.66 -4.47,105.18 -4.39,105.70 -4.32,106.23 -4.24,106.77 -4.16,107.31 -4.09,107.86 -4.01,108.43 -3.94,108.99 -3.87,109.57 -3.79,110.16 -3.72,110.75 -3.65,111.35 -3.58,111.96 -3.52,112.58 -3.45,113.21 -3.38,113.84 -3.32,114.49 -3.25,115.14 -3.19,115.80 -3.12,116.48 -3.06,117.16 -3.00,117.85 -2.94,118.55 -2.88,119.26 -2.82,119.98 -2.76,120.71 -2.71,121.45 -2.65,122.20 -2.59,122.96 -2.54,123.73 -2.48,124.51 -2.43,125.30 -2.38,126.10 -2.33,126.91 -2.28,127.74 -2.22,128.57 -2.18,129.42 -2.13,130.27 -2.08,131.14 -2.03,132.02 -1.98,132.91 -1.94,133.81 -1.89,134.72 -1.85,135.65 -1.80,136.59 -1.76,137.53 -1.72,138.50 -1.68,139.47 -1.64,140.46 -1.60,141.45 -1.56,142.46 -1.52,143.49 -1.48,144.52 -1.44,145.57 -1.40,146.63 -1.37,147.71 -1.33,148.79 -1.30,149.90 -1.26,151.01 -1.23,152.14 -1.19,153.28 -1.16,154.43 -1.13,155.60 -1.10,156.78 -1.07,157.98 -1.04,159.18 -1.01,160.41 -0.98,161.64 -0.95,162.90 -0.92,164.16 -0.89,165.44 -0.87,166.73 -0.84,168.04 -0.81,169.36 -0.79,170.70 -0.76,172.05 -0.74,173.41 -0.72,174.79 -0.69,176.19 -0.67,177.60 -0.65,179.02 -0.63,180.46 -0.61,181.91 -0.58,183.37 -0.56,184.85 -0.54,186.35 -0.53,187.86 -0.51,189.39 -0.49,190.92 -0.47,192.48 -0.45,194.05 -0.44,195.63 -0.42,197.22 -0.40,198.84 -0.39,200.46 -0.37,202.10 -0.36,203.75 -0.34,205.42 -0.33,207.10 -0.31,208.79 -0.30,210.50 -0.29,212.22 -0.28,213.96 -0.26,215.70 -0.25,217.46 -0.24,219.23 -0.23,221.02 -0.22,222.82 -0.21,224.63 -0.20,226.45 -0.19,228.28 -0.18,230.12 -0.17,231.98 -0.16,233.84 -0.15,235.72 -0.14,237.61 -0.14,239.50 -0.13,241.41 -0.12,243.32 -0.11,245.24 -0.11,247.17 -0.10,249.11 -0.09,251.05 -0.09,253.00 -0.08,254.96 -0.08,256.92 -0.07,258.89 -0.07,260.86 -0.06,262.84 -0.06,264.82 -0.05,266.80 -0.05,268.78 -0.05,270.76 -0.04,272.74 -0.04,274.73 -0.04,276.71 -0.03,278.68 -0.03,280.66 -0.03,282.63 -0.02,284.59 -0.02,286.55 -0.02,288.50 -0.02,290.44 -0.02,292.37 -0.01,294.28 -0.01,296.19 -0.01,298.08 -0.01,299.95 -0.01,301.80 -0.01,303.64 -0.01,305.45 -0.01,307.24 -0.00,309.00 -0.00,310.74 -0.00,312.44 -0.00,314.11 -0.00,315.74 -0.00,317.34 -0.00,318.88 -0.00,320.38 -0.00,321.83 -0.00,323.22 -0.00,324.54 -0.00,325.79 -0.00,326.96 -0.00,328.03 -0.00,328.99 -0.00,329.80 -0.00,330.42 0.00,330.58 0.00,330.42 0.00,329.80 0.00,328.99 0.00,328.03 0.00,326.96 0.00,325.79 0.00,324.54 0.00,323.22 0.00,321.83 0.00,320.38 0.00,318.88 0.00,317.34 0.00,315.74 0.00,314.11 0.00,312.44 0.00,310.74 0.00,309.00 0.01,307.24 0.01,305.45 0.01,303.64 0.01,301.80 0.01,299.95 0.01,298.08 0.01,296.19 0.01,294.28 0.02,292.37 0.02,290.44 0.02,288.50 0.02,286.55 0.02,284.59 0.03,282.63 0.03,280.66 0.03,278.68 0.04,276.71 0.04,274.73 0.04,272.74 0.05,270.76 0.05,268.78 0.05,266.80 0.06,264.82 0.06,262.84 0.07,260.86 0.07,258.89 0.08,256.92 0.08,254.96 0.09,253.00 0.09,251.05 0.10,249.11 0.11,247.17 0.11,245.24 0.12,243.32 0.13,241.41 0.14,239.50 0.14,237.61 0.15,235.72 0.16,233.84 0.17,231.98 0.18,230.12 0.19,228.28 0.20,226.45 0.21,224.63 0.22,222.82 0.23,221.02 0.24,219.23 0.25,217.46 0.26,215.70 0.28,213.96 0.29,212.22 0.30,210.50 0.31,208.79 0.33,207.10 0.34,205.42 0.36,203.75 0.37,202.10 0.39,200.46 0.40,198.84 0.42,197.22 0.44,195.63 0.45,194.05 0.47,192.48 0.49,190.92 0.51,189.39 0.53,187.86 0.54,186.35 0.56,184.85 0.58,183.37 0.61,181.91 0.63,180.46 0.65,179.02 0.67,177.60 0.69,176.19 0.72,174.79 0.74,173.41 0.76,172.05 0.79,170.70 0.81,169.36 0.84,168.04 0.87,166.73 0.89,165.44 0.92,164.16 0.95,162.90 0.98,161.64 1.01,160.41 1.04,159.18 1.07,157.98 1.10,156.78 1.13,155.60 1.16,154.43 1.19,153.28 1.23,152.14 1.26,151.01 1.30,149.90 1.33,148.79 1.37,147.71 1.40,146.63 1.44,145.57 1.48,144.52 1.52,143.49 1.56,142.46 1.60,141.45 1.64,140.46 1.68,139.47 1.72,138.50 1.76,137.53 1.80,136.59 1.85,135.65 1.89,134.72 1.94,133.81 1.98,132.91 2.03,132.02 2.08,131.14 2.13,130.27 2.18,129.42 2.22,128.57 2.28,127.74 2.33,126.91 2.38,126.10 2.43,125.30 2.48,124.51 2.54,123.73 2.59,122.96 2.65,122.20 2.71,121.45 2.76,120.71 2.82,119.98 2.88,119.26 2.94,118.55 3.00,117.85 3.06,117.16 3.12,116.48 3.19,115.80 3.25,115.14 3.32,114.49 3.38,113.84 3.45,113.21 3.52,112.58 3.58,111.96 3.65,111.35 3.72,110.75 3.79,110.16 3.87,109.57 3.94,108.99 4.01,108.43 4.09,107.86 4.16,107.31 4.24,106.77 4.32,106.23 4.39,105.70 4.47,105.18 4.55,104.66 4.63,104.16 4.72,103.66 4.80,103.16 4.88,102.68 4.97,102.20 5.05,101.73 5.14,101.26 5.23,100.80 5.32,100.35 5.41,99.91 5.50,99.47 5.59,99.03 5.68,98.61 5.78,98.19 5.87,97.77 5.97,97.37 6.07,96.96 6.16,96.57 6.26,96.18 6.36,95.79 6.46,95.41 6.57,95.04 6.67,94.67 6.78,94.31 6.88,93.95 6.99,93.60 7.10,93.25 7.20,92.91 7.31,92.57 7.43,92.24 7.54,91.92 7.65,91.59 7.77,91.28 7.88,90.96 8.00,90.66 8.12,90.35 8.23,90.05 8.35,89.76 8.48,89.47 8.60,89.18 8.72,88.90 8.85,88.63 8.97,88.35 9.10,88.08 9.23,87.82 9.36,87.56 9.49,87.30 9.62,87.05 9.75,86.80 9.89,86.55 10.03,86.31 10.16,86.07 10.30,85.84 10.44,85.61 10.58,85.38 10.72,85.16 10.87,84.93 11.01,84.72 11.16,84.50 11.30,84.29 11.45,84.08 11.60,83.88 11.75,83.68 11.91,83.48 12.06,83.28 12.21,83.09 12.37,82.90 12.53,82.72 12.69,82.53 12.85,82.35 13.01,82.17 13.17,82.00 13.34,81.82 13.50,81.65 13.67,81.48 13.84,81.32 14.01,81.16 14.18,81.00 14.35,80.84 14.52,80.68 14.70,80.53 14.88,80.38 15.05,80.23 15.23,80.08 15.41,79.94 15.60,79.80 15.78,79.66 15.97,79.52 16.15,79.39 16.34,79.25 16.53,79.12 16.72,78.99 16.91,78.87 17.11,78.74 17.30,78.62 17.50,78.50 17.70,78.38 17.90,78.26 18.10,78.14 18.30,78.03 18.51,77.91 18.71,77.80 18.92,77.69 19.13,77.59 19.34,77.48 19.55,77.38 19.77,77.27 19.98,77.17 20.20,77.07 20.42,76.98 20.64,76.88 20.86,76.78 21.08,76.69 21.31,76.60 21.53,76.51 21.76,76.42 21.99,76.33 22.22,76.24 22.45,76.16 22.69,76.07 22.93,75.99 23.16,75.91 23.40,75.83 23.64,75.75 23.89,75.67 24.13,75.60 24.38,75.52 24.62,75.45 24.87,75.37 25.12,75.30 25.37,75.23 25.63,75.16 25.88,75.09 26.14,75.02 26.40,74.96 26.66,74.89 26.93,74.83 27.19,74.76 27.46,74.70 27.72,74.64 27.99,74.58 28.26,74.52 28.54,74.46 28.81,74.40 29.09,74.34 29.37,74.29 29.65,74.23 29.93,74.18 30.21,74.12 30.50,74.07 30.79,74.02 31.08,73.97 31.37,73.92 31.66,73.87 31.95,73.82 32.25,73.77 32.55,73.72 32.85,73.67 33.15,73.63 33.45,73.58 33.76,73.54 34.07,73.49 34.38,73.45 34.69,73.41 35.00,73.36 35.31,73.32 35.63,73.28 35.95,73.24 36.27,73.20 36.59,73.16 36.92,73.12 37.24,73.09 37.57,73.05 37.90,73.01 38.23,72.98 38.57,72.94 38.90,72.91 39.24,72.87 39.58,72.84 39.92,72.80 40.27,72.77 40.61,72.74 40.96,72.71 41.31,72.67 41.66,72.64 42.01,72.61 42.37,72.58 42.73,72.55 43.09,72.52 43.45,72.49 43.81,72.47 44.18,72.44 44.54,72.41 44.91,72.38 45.29,72.36 45.66,72.33 46.04,72.30 46.41,72.28 46.79,72.25 47.18,72.23 47.56,72.20 47.95,72.18 48.33,72.16 48.72,72.13 49.12,72.11 49.51,72.09 49.91,72.06 50.31,72.04 50.71,72.02 51.11,72.00 51.52,71.98 51.92,71.96 52.33,71.94 52.74,71.92 53.16,71.90 53.57,71.88 53.99,71.86 54.41,71.84 54.83,71.82 55.26,71.80 55.68,71.78 56.11,71.77 56.54,71.75 56.98,71.73 57.41,71.71 57.85,71.70 58.29,71.68 58.73,71.66 59.18,71.65 59.62,71.63 60.07,71.62 60.52,71.60 60.98,71.59 61.43,71.57 61.89,71.56 62.35,71.54 62.81,71.53 63.28,71.51 63.75,71.50 64.21,71.49 64.69,71.47 65.16,71.46 65.64,71.45 66.11,71.43 66.60,71.42 67.08,71.41 67.56,71.40 68.05,71.38 68.54,71.37 69.03,71.36 69.53,71.35 70.03,71.34 70.53,71.33 71.03,71.31 71.53,71.30 72.04,71.29 72.55,71.28 73.06,71.27 73.57,71.26 74.09,71.25 74.61,71.24 75.13,71.23 75.65,71.22 76.18,71.21 76.71,71.20 77.24,71.19 77.77,71.18 78.31,71.17 78.85,71.16 79.39,71.16 79.93,71.15 80.48,71.14 81.02,71.13 81.57,71.12 82.13,71.11 82.68,71.11 83.24,71.10 83.80,71.09 84.36,71.08 84.93,71.07 85.50,71.07 86.07,71.06 86.64,71.05 87.22,71.04 87.80,71.04 88.38,71.03 88.96,71.02 89.55,71.02 90.13,71.01 90.73,71.00 91.32,71.00 91.91,70.99 92.51,70.98 93.12,70.98 93.72,70.97 94.33,70.97 94.93,70.96 95.55,70.95 96.16,70.95 96.78,70.94 97.40,70.94 98.02,70.93 98.65,70.93 99.27,70.92 99.90,70.91 100.54,70.91 101.17,70.90 101.81,70.90 102.45,70.89 103.09,70.89 103.74,70.88 104.39,70.88 105.04,70.87 105.70,70.87 106.35,70.87 107.01,70.86 107.68,70.86 108.34,70.85 109.01,70.85 109.68,70.84 110.35,70.84 111.03,70.83 111.71,70.83 112.39,70.83 113.08,70.82 113.76,70.82 114.45,70.81 115.15,70.81 115.84,70.81 116.54,70.80 117.24,70.80 117.95,70.80 118.65,70.79 119.36,70.79 120.08,70.78 120.79,70.78 121.51,70.78 122.23,70.77 122.95,70.77 123.68,70.77 124.41,70.76 125.14,70.76 125.88,70.76 126.62,70.76 127.36,70.75 128.10,70.75 128.85,70.75 129.60,70.74 130.35,70.74 131.11,70.74 131.87,70.73 132.63,70.73 133.39,70.73 134.16,70.73 134.93,70.72 135.70,70.72 136.48,70.72 137.26,70.72 138.04,70.71 138.83,70.71 139.61,70.71 140.40,70.71 141.20,70.70 142.00,70.70 142.80,70.70 143.60,70.70 144.40,70.69 145.21,70.69 146.03,70.69 146.84,70.69 147.66,70.69 148.48,70.68 149.30,70.68 150.13,70.68 150.96,70.68 151.79,70.68 152.63,70.67 153.47,70.67 154.31,70.67 155.16,70.67 156.01,70.67 156.86,70.66 157.71,70.66 158.57,70.66 159.43,70.66 160.30,70.66 161.16,70.66 162.03,70.65 162.91,70.65 163.78,70.65 164.66,70.65 165.55,70.65 166.43,70.65 167.32,70.64 168.21,70.64 169.11,70.64 170.01,70.64 170.91,70.64 171.82,70.64 172.72,70.63 173.64,70.63 174.55,70.63 175.47,70.63 176.39,70.63 177.31,70.63 178.24,70.63 179.17,70.63 180.11,70.62 181.04,70.62 181.98,70.62 182.93,70.62 183.87,70.62 184.82,70.62 185.78,70.62 186.73,70.62 187.69,70.61 188.66,70.61 189.62,70.61 190.59,70.61 191.57,70.61 192.54,70.61 193.52,70.61 194.51,70.61 195.49,70.61 196.48,70.60 197.48,70.60 198.47,70.60 199.47,70.60 200.48,70.60 201.48,70.60"/>
</g>
<g font-family="'Liberation Sans', Arial, sans-serif" font-size="12" fill="#262626">
<text transform="translate(63.45,349.6) scale(1.24,1)" text-anchor="middle">-6</text>
<text transform="translate(142.70,349.6) scale(1.24,1)" text-anchor="middle">-4</text>
<text transform="translate(221.95,349.6) scale(1.24,1)" text-anchor="middle">-2</text>
<text transform="translate(301.20,349.6) scale(1.24,1)" text-anchor="middle">0</text>
<text transform="translate(380.45,349.6) scale(1.24,1)" text-anchor="middle">2</text>
<text transform="translate(459.70,349.6) scale(1.24,1)" text-anchor="middle">4</text>
<text transform="translate(538.95,349.6) scale(1.24,1)" text-anchor="middle">6</text>
<text transform="translate(56.3,320.98) scale(1.24,1)" text-anchor="end">0.1</text>
<text transform="translate(56.3,294.66) scale(1.24,1)" text-anchor="end">0.2</text>
<text transform="translate(56.3,268.34) scale(1.24,1)" text-anchor="end">0.3</text>
<text transform="translate(56.3,242.02) scale(1.24,1)" text-anchor="end">0.4</text>
<text transform="translate(56.3,215.70) scale(1.24,1)" text-anchor="end">0.5</text>
<text transform="translate(56.3,189.38) scale(1.24,1)" text-anchor="end">0.6</text>
<text transform="translate(56.3,163.06) scale(1.24,1)" text-anchor="end">0.7</text>
<text transform="translate(56.3,136.74) scale(1.24,1)" text-anchor="end">0.8</text>
<text transform="translate(56.3,110.42) scale(1.24,1)" text-anchor="end">0.9</text>
<text transform="translate(56.3,84.10) scale(1.24,1)" text-anchor="end">1</text>
</g>
<text transform="translate(301.3,372.6) scale(1.24,1)" text-anchor="middle" font-family="'Liberation Sans', Arial, sans-serif" font-weight="bold" font-size="17.8" fill="#000">position</text>
<text transform="translate(26.2,201.3) scale(1.17,1) rotate(-90)" text-anchor="middle" font-family="'Liberation Sans', Arial, sans-serif" font-weight="bold" font-size="18.85" fill="#000">TVG(position,β,sigma)</text>
<rect x="164.5" y="8.6" width="273.4" height="51.7" fill="#fff" stroke="#262626" stroke-width="1"/>
<line x1="168.6" y1="18.4" x2="212.6" y2="18.4" stroke="#1AA6E6" stroke-width="2.2"/>
<text transform="translate(220.2,22.80) scale(1.199,1)" font-family="'Liberation Sans', Arial, sans-serif" font-weight="bold" font-size="12.2" fill="#000">TVG(position,β=8,sigma=10)</text>
<line x1="168.6" y1="34.8" x2="212.6" y2="34.8" stroke="#FF0000" stroke-width="2.2"/>
<text transform="translate(220.2,39.00) scale(1.199,1)" font-family="'Liberation Sans', Arial, sans-serif" font-weight="bold" font-size="12.2" fill="#000">TVG(position,β=1.6,sigma=5.2)</text>
<line x1="168.6" y1="50.6" x2="212.6" y2="50.6" stroke="#9B3FA9" stroke-width="2.6"/>
<text transform="translate(220.2,55.50) scale(1.199,1)" font-family="'Liberation Sans', Arial, sans-serif" font-weight="bold" font-size="12.2" fill="#000">TVG(position,β=0.05,sigma=1)</text>
</svg>
</body></html>
